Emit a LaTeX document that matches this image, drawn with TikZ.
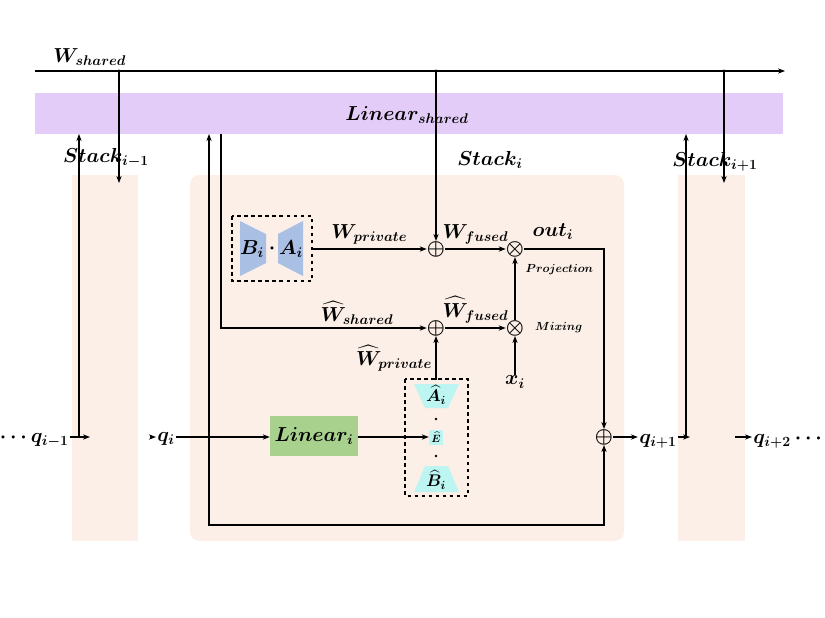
\documentclass[tikz,border=0pt]{standalone}
\usepackage{amsmath,bm}
\usetikzlibrary{arrows.meta,positioning}
\definecolor{stackbg}{HTML}{FBEFE7}
\definecolor{sharedbg}{HTML}{E4CCF8}
\definecolor{lingreen}{HTML}{A9D18E}
\definecolor{lorablue}{HTML}{A9BFE4}
\definecolor{loracyan}{HTML}{BDF5F2}
\tikzset{
  lbl/.style={font=\boldmath\LARGE, inner sep=1pt},
  small/.style={font=\boldmath\normalsize, inner sep=1pt},
  op/.style={inner sep=0pt, font=\boldmath\LARGE},
  flow/.style={-{Stealth[length=6pt]}, line width=0.9pt},
  box/.style={dashed, line width=0.9pt}
}
\begin{document}
\begin{tikzpicture}[x=0.03cm,y=-0.03cm]
  \useasboundingbox (0,0) rectangle (825,617);
  % Backgrounds
  \fill[stackbg] (72,175) rectangle (138,541);
  \fill[stackbg, rounded corners=8pt] (190,175) rectangle (624,541);
  \fill[stackbg] (678,175) rectangle (745,541);
  \fill[sharedbg] (35,93) rectangle (783,134);
  \node[lbl] (linshared) at (407,115) {$Linear_{shared}$};
  \node[lbl] (stackprev) at (106,158) {$Stack_{i-1}$};
  \node[lbl] (stackcur) at (490,160) {$Stack_{i}$};
  \node[lbl] (stacknext) at (715,162) {$Stack_{i+1}$};

  % Shared weight bus
  \coordinate (busstart) at (35,71);
  \coordinate (busend) at (785,71);
  \node[lbl, anchor=south west] (wshared) at (52,67) {$W_{shared}$};
  \draw[flow] (busstart) -- (busend);
  \coordinate (tapa) at (119,71);
  \coordinate (tapb) at (436,71);
  \coordinate (tapc) at (724,71);
  \fill (tapa) circle (1.3pt) (tapb) circle (1.3pt) (tapc) circle (1.3pt);
  \draw[flow] (tapa) -- (119,183);
  \draw[flow] (tapc) -- (724,183);

  % Operators
  \node[op] (addtop) at (436,249) {$\oplus$};
  \node[op] (multop) at (515,249) {$\otimes$};
  \node[op] (addmid) at (436,328) {$\oplus$};
  \node[op] (multmid) at (515,328) {$\otimes$};
  \node[op] (addout) at (604,437) {$\oplus$};
  \node[lbl] (xin) at (515,382) {$x_i$};

  % Private LoRA box
  \draw[box] (232,216) rectangle (312,281);
  \fill[lorablue] (240,221) -- (266,234) -- (266,263) -- (240,276) -- cycle;
  \fill[lorablue] (303,221) -- (278,234) -- (278,263) -- (303,276) -- cycle;
  \node[lbl] (bmat) at (252,249) {$B_i$};
  \node[lbl] (amat) at (291,249) {$A_i$};
  \node[lbl] (bdot) at (272,249) {$\cdot$};
  \coordinate (boxout) at (312,249);

  % Hat LoRA box
  \draw[box] (405,379) rectangle (468,496);
  \fill[loracyan] (414,384) -- (459,384) -- (448,408) -- (425,408) -- cycle;
  \fill[loracyan] (425,466) -- (448,466) -- (459,492) -- (414,492) -- cycle;
  \node[font=\boldmath\Large, inner sep=0pt] (ahat) at (436,395) {$\widehat{A}_i$};
  \node[fill=loracyan, font=\boldmath\small, inner sep=2pt] (ehat) at (436,437) {$\widehat{E}$};
  \node[font=\boldmath\Large, inner sep=0pt] (bhat) at (436,480) {$\widehat{B}_i$};
  \fill (436,419) circle (1.2pt) (436,456) circle (1.2pt);
  \coordinate (hattop) at (436,380);

  % Main row
  \node[lbl, anchor=east] (qprev) at (70,440) {$\cdots q_{i-1}$};
  \node[lbl] (qcur) at (166,439) {$q_i$};
  \node[fill=lingreen, minimum width=2.64cm, minimum height=1.2cm, font=\boldmath\LARGE] (linear) at (314,436) {$Linear_i$};
  \node[lbl] (qnext) at (658,441) {$q_{i+1}$};
  \node[lbl, anchor=west] (qnn) at (752,441) {$q_{i+2}\cdots$};

  % Connections
  \draw[flow] (qprev.east |- 0,437) -- (90,437);
  \draw[flow] (79,437) -- (79,134);
  \draw[flow] (150,437) -- (qcur.west |- 0,437);
  \draw[flow] (qcur.east |- 0,437) -- (linear.west |- 0,437);
  \coordinate (split) at (209,437);
  \fill (split) circle (1.3pt);
  \draw[flow] (split) -- (209,134);
  \draw[flow] (linear.east |- 0,437) -- (ehat.west |- 0,437);
  \draw[flow] (221,134) |- (addmid);
  \draw[flow] (tapb) -- (addtop);
  \draw[flow] (boxout) -- node[lbl, above=3pt] {$W_{private}$} (addtop);
  \draw[flow] (addtop) -- node[lbl, above=3pt] {$W_{fused}$} (multop);
  \draw[flow] (addmid) -- node[lbl, above=3pt] {$\widehat{W}_{fused}$} (multmid);
  \node[lbl] at (357,313) {$\widehat{W}_{shared}$};
  \draw[flow] (hattop) -- node[lbl, left=2pt] {$\widehat{W}_{private}$} (addmid);
  \draw[flow] (xin) -- (multmid);
  \draw[flow] (multmid) -- (multop);
  \node[small, right=8pt of multmid] (mixing) {$Mixing$};
  \node[small, below right=5pt and 0pt of multop] (proj) {$Projection$};
  \node[lbl, above right=0pt and 6pt of multop] (outi) {$out_i$};
  \draw[flow] (multop) -| (addout);
  \draw[flow] (209,437) |- (604,525) -- (addout);
  \draw[flow] (addout.east |- 0,437) -- (qnext.west |- 0,437);
  \draw[flow] (qnext.east |- 0,437) -- (690,437);
  \draw[flow] (686,437) -- (686,134);
  \draw[flow] (735,437) -- (qnn.west |- 0,437);
\end{tikzpicture}
\end{document}
